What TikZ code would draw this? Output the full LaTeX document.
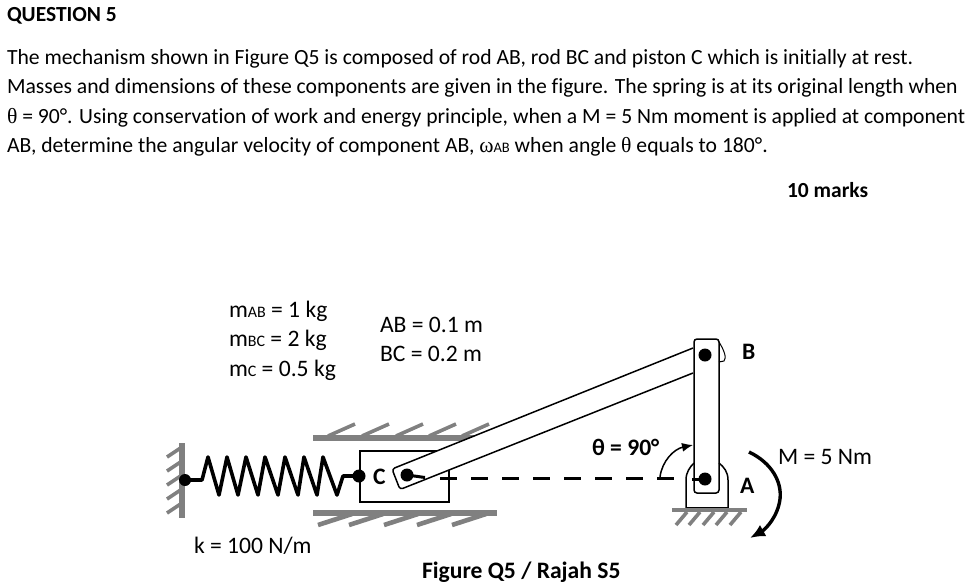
\documentclass[tikz,border=0pt]{standalone}
\usepackage{fontspec}
\setmainfont[Ligatures=NoCommon]{Carlito}
\newfontfamily\symfont{Liberation Serif}
\usetikzlibrary{arrows.meta}
\newcommand{\subt}[1]{{\fontsize{14.5}{14.5}\selectfont #1}}
\newcommand{\subl}[1]{{\fontsize{16}{16}\selectfont #1}}
\tikzset{
  txt/.style={anchor=base west,inner sep=0pt,outer sep=0pt,font=\fontsize{21.65}{22}\selectfont,text=black},
  lbl/.style={txt,font=\fontsize{23.6}{24}\selectfont},
  bld/.style={txt,font=\fontsize{23.6}{24}\selectfont\bfseries},
  bldsmall/.style={txt,font=\fontsize{21.5}{22}\selectfont\bfseries},
  guide/.style={draw=black!50,line width=6pt},
  hatchline/.style={draw=black!50,line width=4.6pt},
  thin hatch/.style={draw=black!50,line width=3.6pt},
  outline/.style={draw=black,line width=1.5pt},
  pin/.style={fill=black,draw=none,circle,minimum size=13pt,inner sep=0pt},
  heavy/.style={draw=black,line width=3pt}
}
\begin{document}
\begin{tikzpicture}[x=1pt,y=-1pt]
\useasboundingbox (0,0) rectangle (972,587);
\fill[white] (0,0) rectangle (972,587);

% question text
\node[bldsmall] (q) at (7,21) {QUESTION 5};
\node[txt] (l1) at (7,64) {The mechanism shown in Figure Q5 is composed of rod AB, rod BC and piston C which is initially at rest.};
\node[txt] (l2) at (7,93.5) {Masses and dimensions of these components are given in the figure. The spring is at its original length when};
\node[txt] (l3) at (7,123) {{\symfont θ} = 90°. Using conservation of work and energy principle, when a M = 5 Nm moment is applied at component};
\node[txt] (l4) at (7,152.5) {AB, determine the angular velocity of component AB, {\symfont ω}\subt{AB} when angle {\symfont θ} equals to 180°.};
\node[bldsmall] (marks) at (787,197) {10 marks};

% given data
\node[lbl] (m1) at (229,317) {m\subl{AB} = 1 kg};
\node[lbl] (m2) at (229,346) {m\subl{BC} = 2 kg};
\node[lbl] (m3) at (229,376) {m\subl{C} = 0.5 kg};
\node[lbl] (ab) at (380,332) {AB = 0.1 m};
\node[lbl] (bc) at (380,361) {BC = 0.2 m};
\node[lbl] (kk) at (194,553) {k = 100 N/m};
\node[bld] (fig) at (422,578) {Figure Q5 / Rajah S5};

% left wall
\draw[guide] (182,443) -- (182,518);
\foreach \y in {456,470,484,498,512}
  \draw[thin hatch] (182,\y-9) -- (167,\y+1);

% upper guide
\draw[guide] (313,438) -- (487,438);
\foreach \x in {328,362,396,429,462}
  \draw[thin hatch] (\x,436) -- (\x+27,424);
% lower guide
\draw[guide] (313,513) -- (497,513);
\foreach \x in {318,349,384,417,452}
  \draw[hatchline] (\x,525) -- (\x+34,514);

% piston
\draw[outline] (360,451) rectangle (449,502);
\node[bld] (clabel) at (373,484) {C};

% dashed reference line
\draw[heavy,dash pattern=on 17pt off 14pt] (440,478) -- (675,478);
\draw[heavy] (692,479) -- (705,479);

% rod BC
\fill[white] (392,469) -- (400,489) -- (693,373) -- (693,348) -- cycle;
\draw[outline,rounded corners=3pt] (693,348) -- (392,469) -- (400,489.5) -- (693,373);

% support at A
\draw[outline] (686,508) -- (686,480) .. controls (686,472) and (690,467) .. (694,463);
\draw[outline] (728,508) -- (728,480) .. controls (728,472) and (724,467) .. (719,463);
\draw[outline] (686,508) -- (728,508);
\draw[guide,line width=4.5pt] (672,510) -- (747,510);
\foreach \x in {676,689,703,716,730}
  \draw[thin hatch] (\x,525) -- (\x+11,512);

% small cap near B
\draw[outline,line width=1pt] (719,342) .. controls (724,350) and (727,358) .. (724,361) -- (719,362);

% rod AB
\draw[outline,rounded corners=3pt] (694,339) rectangle (719,493);

% pins
\node[pin] (A) at (705,479) {};
\node[pin] (B) at (705,355) {};
\node[pin] (C) at (407,475) {};
\node[pin] (S) at (359,476) {};
\node[pin,minimum size=12pt] (W) at (185,480) {};
\draw[heavy] (C.center) -- (425,477.5);

% spring
\draw[heavy,line width=3.6pt,line join=round]
  (W.center) -- (202,480) -- (208,457) -- (219,495) -- (227,457) -- (238,495)
  -- (246,457) -- (258,495) -- (265,457) -- (278,495) -- (285,457) -- (298,495)
  -- (304,457) -- (317,495) -- (323,457) -- (337,495) -- (343,476) -- (S.center);

% angle arrow and label
\node[bld] (theta) at (592,455) {θ = 90°};
\draw[outline,-{Latex[length=11pt,width=9pt]}] (660,477) .. controls (662,461) and (674,449) .. (693,445);

% moment
\draw[draw=black,line width=3.4pt,-{Latex[length=15pt,width=13pt]}] (749,452) .. controls (772,463) and (782,482) .. (780,499) .. controls (778,516) and (766,529) .. (750,538);
\node[lbl] (mom) at (778,464) {M = 5 Nm};
\node[bld] (blabel) at (742,359) {B};
\node[bld] (alabel) at (740,493) {A};
\end{tikzpicture}
\end{document}
